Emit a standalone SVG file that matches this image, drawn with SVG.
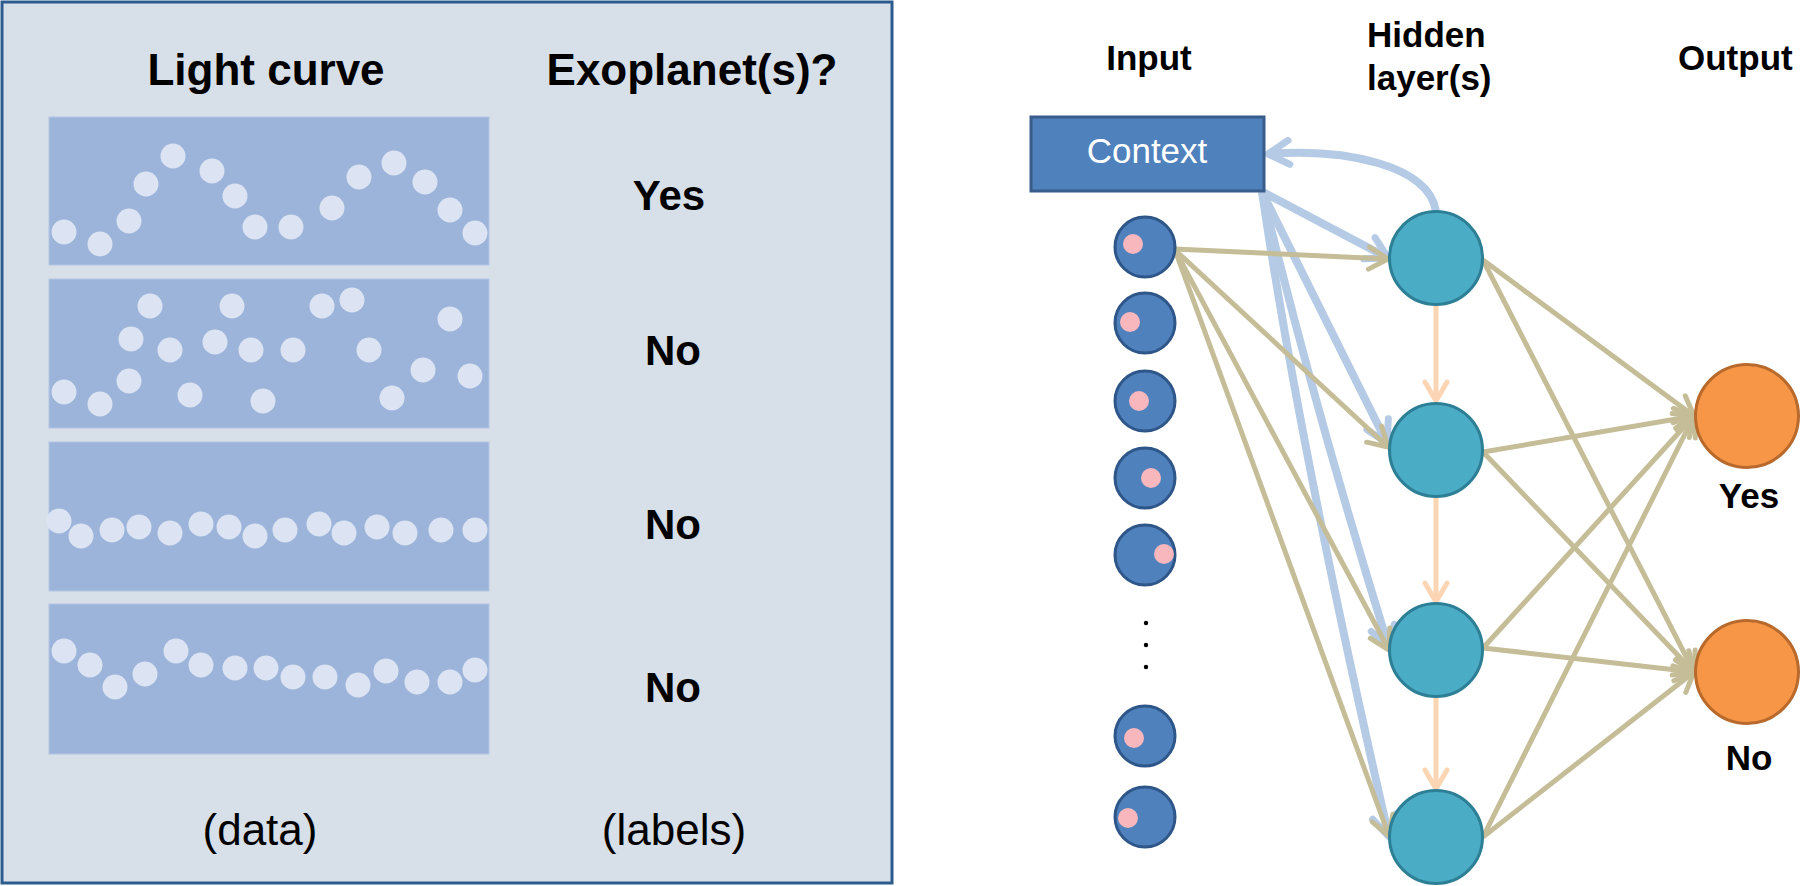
<svg xmlns="http://www.w3.org/2000/svg" width="1800" height="886" viewBox="0 0 1800 886">
<style>
text{font-family:"Liberation Sans",Arial,sans-serif;}
.hd{font-size:44px;font-weight:bold;fill:#000;text-anchor:middle;}
.lb{font-size:42px;font-weight:bold;fill:#000;text-anchor:middle;}
.ft{font-size:44px;fill:#000;text-anchor:middle;}
.rh{font-size:35px;font-weight:bold;fill:#000;}
.box{fill:#9cb4da;stroke:#b4c6e4;stroke-width:1;}
.dot{fill:#dce4f3;}
.inp{fill:#4f81bd;stroke:#2f5689;stroke-width:3;}
.pk{fill:#f7b7bc;}
.hid{fill:#4bacc6;stroke:#2d7f96;stroke-width:3;}
.out{fill:#f79646;stroke:#b8692c;stroke-width:3;}
.tan{fill:none;stroke:#c5bd97;stroke-width:5;}
.blu{fill:none;stroke:#b5cae4;stroke-width:8;}
.pch{fill:none;stroke:#fcd5b5;stroke-width:5;}
</style>
<defs>
<marker id="mt" markerUnits="userSpaceOnUse" viewBox="0 0 30 30" refX="27" refY="15" markerWidth="30" markerHeight="30" orient="auto"><path d="M8,4 L27,15 L8,26" fill="none" stroke="#c5bd97" stroke-width="5" stroke-linecap="round" stroke-linejoin="round"/></marker>
<marker id="mb" markerUnits="userSpaceOnUse" viewBox="0 0 32 32" refX="29" refY="16" markerWidth="32" markerHeight="32" orient="auto"><path d="M8,4 L29,16 L8,28" fill="none" stroke="#b5cae4" stroke-width="7" stroke-linecap="round" stroke-linejoin="round"/></marker>
<marker id="mp" markerUnits="userSpaceOnUse" viewBox="0 0 30 30" refX="27" refY="15" markerWidth="30" markerHeight="30" orient="auto"><path d="M8,4 L27,15 L8,26" fill="none" stroke="#fcd5b5" stroke-width="5" stroke-linecap="round" stroke-linejoin="round"/></marker>
</defs>
<rect width="1800" height="886" fill="#ffffff"/>

<g id="panel-left">
<rect x="2" y="2" width="890" height="881" fill="#d7dfe8" stroke="#2d5b8d" stroke-width="3"/>
<text class="hd" x="266" y="85">Light curve</text>
<text class="hd" x="692" y="85">Exoplanet(s)?</text>

<g id="curve1">
<rect class="box" x="49" y="117" width="440" height="148"/>
<g class="dot">
<circle cx="64" cy="232" r="12.5"/><circle cx="100" cy="244" r="12.5"/><circle cx="129" cy="221" r="12.5"/><circle cx="146" cy="184" r="12.5"/><circle cx="173" cy="156" r="12.5"/><circle cx="212" cy="171" r="12.5"/><circle cx="235" cy="196" r="12.5"/><circle cx="255" cy="227" r="12.5"/><circle cx="291" cy="227" r="12.5"/><circle cx="332" cy="208" r="12.5"/><circle cx="359" cy="177" r="12.5"/><circle cx="394" cy="163" r="12.5"/><circle cx="425" cy="182" r="12.5"/><circle cx="450" cy="210" r="12.5"/><circle cx="475" cy="233" r="12.5"/>
</g>
</g>
<g id="curve2">
<rect class="box" x="49" y="279" width="440" height="149"/>
<g class="dot">
<circle cx="64" cy="392" r="12.5"/><circle cx="100" cy="404" r="12.5"/><circle cx="129" cy="381" r="12.5"/><circle cx="131" cy="339" r="12.5"/><circle cx="150" cy="306" r="12.5"/><circle cx="170" cy="350" r="12.5"/><circle cx="190" cy="395" r="12.5"/><circle cx="215" cy="342" r="12.5"/><circle cx="232" cy="306" r="12.5"/><circle cx="251" cy="350" r="12.5"/><circle cx="263" cy="401" r="12.5"/><circle cx="293" cy="350" r="12.5"/><circle cx="322" cy="306" r="12.5"/><circle cx="352" cy="300" r="12.5"/><circle cx="369" cy="350" r="12.5"/><circle cx="392" cy="398" r="12.5"/><circle cx="423" cy="370" r="12.5"/><circle cx="450" cy="319" r="12.5"/><circle cx="470" cy="376" r="12.5"/>
</g>
</g>
<g id="curve3">
<rect class="box" x="49" y="442" width="440" height="149"/>
<g class="dot">
<circle cx="59" cy="521" r="12.5"/><circle cx="81" cy="536" r="12.5"/><circle cx="112" cy="530" r="12.5"/><circle cx="139" cy="527" r="12.5"/><circle cx="170" cy="533" r="12.5"/><circle cx="201" cy="524" r="12.5"/><circle cx="229" cy="527" r="12.5"/><circle cx="255" cy="536" r="12.5"/><circle cx="285" cy="530" r="12.5"/><circle cx="319" cy="524" r="12.5"/><circle cx="344" cy="533" r="12.5"/><circle cx="377" cy="527" r="12.5"/><circle cx="405" cy="533" r="12.5"/><circle cx="441" cy="530" r="12.5"/><circle cx="475" cy="530" r="12.5"/>
</g>
</g>
<g id="curve4">
<rect class="box" x="49" y="604" width="440" height="150"/>
<g class="dot">
<circle cx="64" cy="651" r="12.5"/><circle cx="90" cy="665" r="12.5"/><circle cx="115" cy="687" r="12.5"/><circle cx="145" cy="674" r="12.5"/><circle cx="176" cy="651" r="12.5"/><circle cx="201" cy="665" r="12.5"/><circle cx="235" cy="668" r="12.5"/><circle cx="266" cy="668" r="12.5"/><circle cx="293" cy="677" r="12.5"/><circle cx="325" cy="677" r="12.5"/><circle cx="358" cy="685" r="12.5"/><circle cx="386" cy="671" r="12.5"/><circle cx="417" cy="682" r="12.5"/><circle cx="450" cy="682" r="12.5"/><circle cx="475" cy="670" r="12.5"/>
</g>
</g>
<text class="lb" x="669" y="210">Yes</text>
<text class="lb" x="673" y="365">No</text>
<text class="lb" x="673" y="539">No</text>
<text class="lb" x="673" y="702">No</text>
<text class="ft" x="260" y="845">(data)</text>
<text class="ft" x="674" y="845">(labels)</text>
</g>

<g id="headers">
<text class="rh" x="1149" y="70" text-anchor="middle">Input</text>
<text class="rh" x="1367" y="47">Hidden</text>
<text class="rh" x="1367" y="90">layer(s)</text>
<text class="rh" x="1678" y="70">Output</text>
</g>

<g id="connectors">
<g id="blue-links">
<path class="blu" d="M1436,211 C1428,165 1345,148 1268,154" marker-end="url(#mb)"/>
<path class="blu" d="M1261,191 L1388,258" marker-end="url(#mb)"/>
<path class="blu" d="M1262,192 L1387,443" marker-end="url(#mb)"/>
<path class="blu" d="M1262,192 Q1315,410 1389,648" marker-end="url(#mb)"/>
<path class="blu" d="M1262,192 Q1300,450 1389,837" marker-end="url(#mb)"/>
</g>
<g id="tan-in">
<path class="tan" d="M1175,249 L1388,259" marker-end="url(#mt)"/>
<path class="tan" d="M1175,250 L1388,447" marker-end="url(#mt)"/>
<path class="tan" d="M1175,250 L1389,650" marker-end="url(#mt)"/>
<path class="tan" d="M1175,250 L1389,836" marker-end="url(#mt)"/>
</g>
<g id="tan-out">
<path class="tan" d="M1483,260 L1694,416" marker-end="url(#mt)"/>
<path class="tan" d="M1483,260 L1694,672" marker-end="url(#mt)"/>
<path class="tan" d="M1483,452 L1694,416" marker-end="url(#mt)"/>
<path class="tan" d="M1483,452 L1694,672" marker-end="url(#mt)"/>
<path class="tan" d="M1483,648 L1694,416" marker-end="url(#mt)"/>
<path class="tan" d="M1483,648 L1694,672" marker-end="url(#mt)"/>
<path class="tan" d="M1483,837 L1694,416" marker-end="url(#mt)"/>
<path class="tan" d="M1483,837 L1694,672" marker-end="url(#mt)"/>
</g>
<g id="peach-links">
<path class="pch" d="M1436,306 L1436,401" marker-end="url(#mp)"/>
<path class="pch" d="M1436,498 L1436,602" marker-end="url(#mp)"/>
<path class="pch" d="M1436,698 L1436,789" marker-end="url(#mp)"/>
</g>
</g>

<g id="context">
<rect x="1031" y="117" width="233" height="74" fill="#4f81bd" stroke="#385d8a" stroke-width="3"/>
<text x="1147" y="163" font-size="35" fill="#ffffff" text-anchor="middle">Context</text>
</g>

<g id="input-1"><circle class="inp" cx="1145" cy="247" r="30"/><circle class="pk" cx="1133" cy="244" r="10"/></g>
<g id="input-2"><circle class="inp" cx="1145" cy="323" r="30"/><circle class="pk" cx="1130" cy="322" r="10"/></g>
<g id="input-3"><circle class="inp" cx="1145" cy="401" r="30"/><circle class="pk" cx="1139" cy="401" r="10"/></g>
<g id="input-4"><circle class="inp" cx="1145" cy="478" r="30"/><circle class="pk" cx="1151" cy="478" r="10"/></g>
<g id="input-5"><circle class="inp" cx="1145" cy="555" r="30"/><circle class="pk" cx="1164" cy="554" r="10"/></g>
<g id="ellipsis" fill="#000"><circle cx="1146" cy="623" r="2.2"/><circle cx="1146" cy="645" r="2.2"/><circle cx="1146" cy="667" r="2.2"/></g>
<g id="input-6"><circle class="inp" cx="1145" cy="736" r="30"/><circle class="pk" cx="1134" cy="738" r="10"/></g>
<g id="input-7"><circle class="inp" cx="1145" cy="817" r="30"/><circle class="pk" cx="1128" cy="818" r="10"/></g>

<g id="hidden-1"><circle class="hid" cx="1436" cy="258" r="46.5"/></g>
<g id="hidden-2"><circle class="hid" cx="1436" cy="450" r="46.5"/></g>
<g id="hidden-3"><circle class="hid" cx="1436" cy="650" r="46.5"/></g>
<g id="hidden-4"><circle class="hid" cx="1436" cy="837" r="46.5"/></g>

<g id="output-yes"><circle class="out" cx="1747" cy="416" r="51.5"/><text class="rh" x="1749" y="508" text-anchor="middle">Yes</text></g>
<g id="output-no"><circle class="out" cx="1747" cy="672" r="51.5"/><text class="rh" x="1749" y="770" text-anchor="middle">No</text></g>
</svg>
